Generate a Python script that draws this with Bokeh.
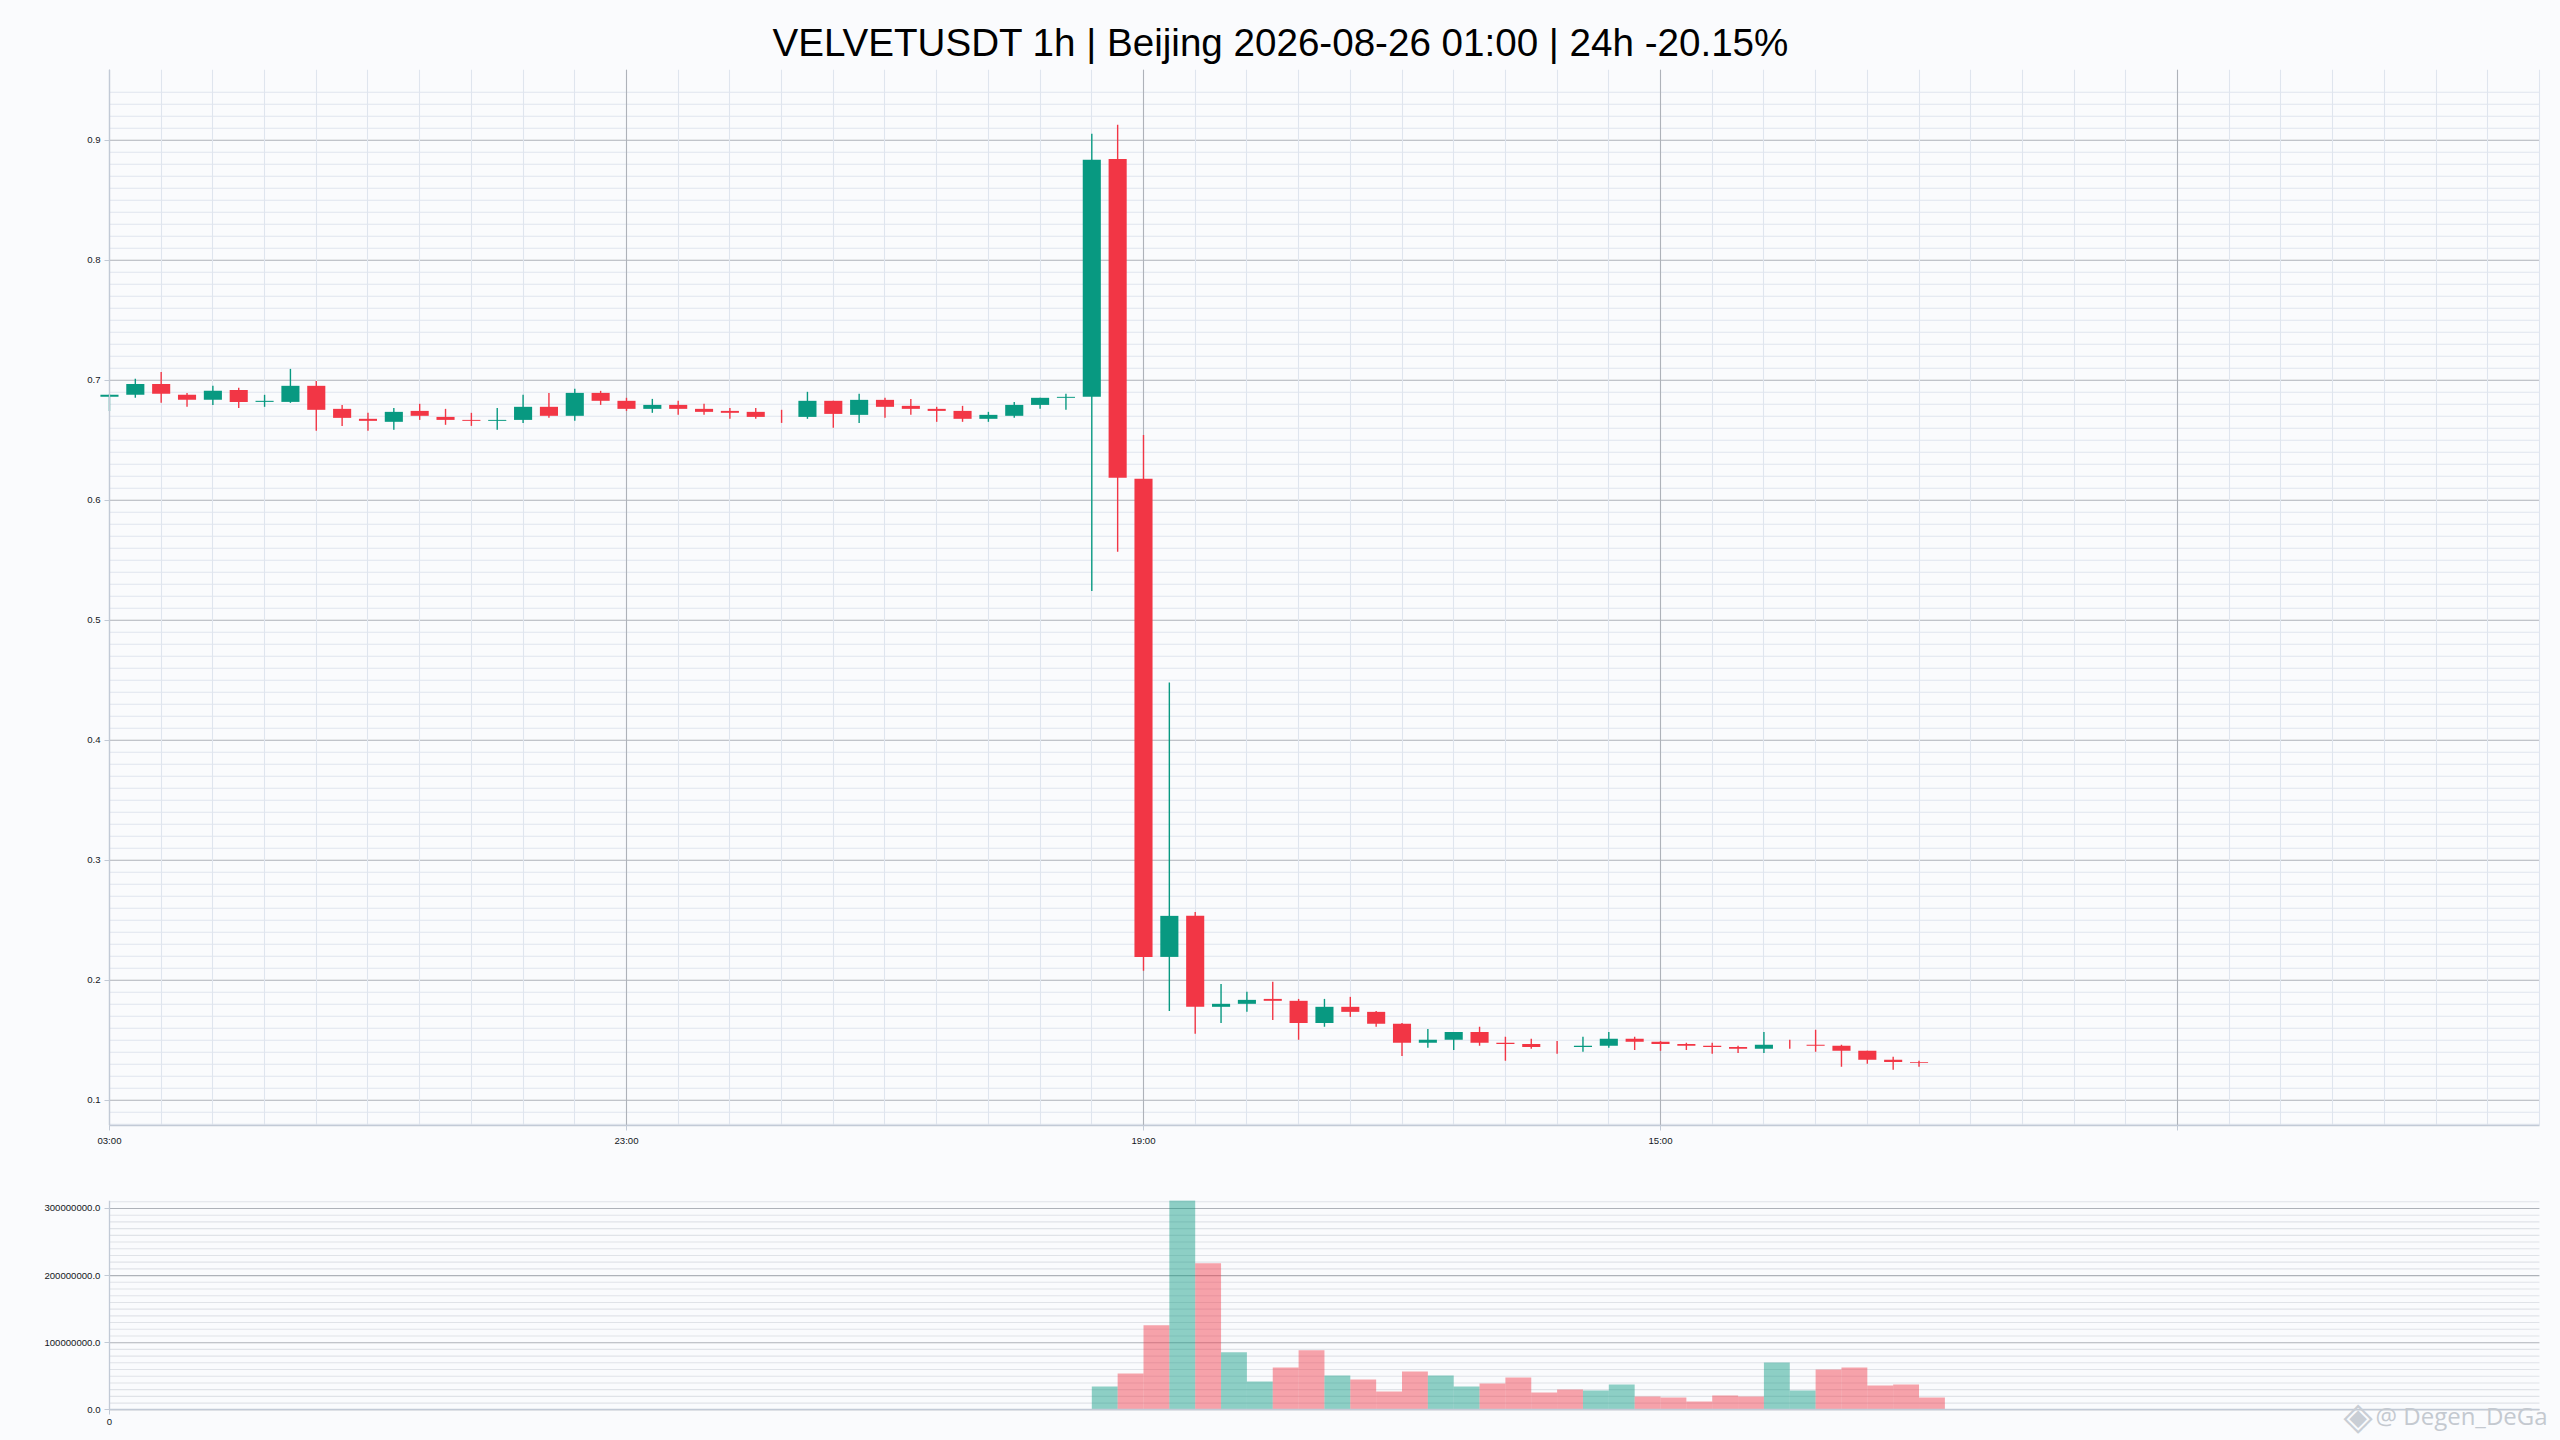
from bokeh.plotting import figure
from bokeh.layouts import column
from bokeh.models import ColumnDataSource, FixedTicker, Label, Title
from bokeh.embed import file_html
from bokeh.resources import INLINE

TITLE = "VELVETUSDT 1h | Beijing 2026-08-26 01:00 | 24h -20.15%"
WATERMARK = "@ Degen_DeGa"
X_TICK_LABELS = {0: "03:00", 20: "23:00", 40: "19:00", 60: "15:00", 80: ""}

opens = [.6861,.6878,.6969,.6878,.6836,.6919,.6819,.6819,.6953,.6761,.6678,.6653,.6744,.6694,.6669,.6661,
         .6669,.6778,.6703,.6894,.6828,.6761,.6794,.6761,.6744,.6736,.6700,.6694,.6828,.6711,.6836,.6786,
         .6761,.6744,.6678,.6703,.6794,.6853,.6861,.8844,.6178,.2194,.2536,.1778,.1803,.1844,.1828,.1644,
         .1778,.1736,.1636,.1478,.1503,.1569,.1478,.1469,.1440,.1444,.1453,.1511,.1486,.1469,.1453,.1444,
         .1428,.1460,.1461,.1453,.1411,.1336,.1319]
closes = [.6878,.6969,.6886,.6836,.6911,.6819,.6828,.6953,.6753,.6686,.6661,.6736,.6703,.6669,.6661,.6669,
          .6778,.6703,.6894,.6828,.6761,.6794,.6761,.6736,.6728,.6694,.6700,.6828,.6719,.6836,.6778,.6761,
          .6744,.6678,.6711,.6794,.6853,.6861,.8836,.6186,.2194,.2536,.1778,.1803,.1836,.1828,.1644,.1778,
          .1736,.1636,.1478,.1503,.1569,.1478,.1469,.1444,.1440,.1453,.1511,.1486,.1469,.1453,.1444,.1428,
          .1461,.1460,.1453,.1411,.1336,.1319,.1311]
highs = [.6883,.7011,.7069,.6894,.6953,.6936,.6878,.7094,.6994,.6794,.6728,.6769,.6803,.6761,.6728,.6769,
         .6878,.6894,.6928,.6911,.6853,.6844,.6828,.6803,.6769,.6769,.6753,.6903,.6828,.6886,.6853,.6844,
         .6778,.6786,.6736,.6819,.6853,.6886,.9053,.9128,.6544,.4481,.2569,.1969,.1903,.1986,.1844,.1844,
         .1861,.1744,.1644,.1594,.1569,.1611,.1528,.1511,.1494,.1528,.1569,.1528,.1494,.1478,.1478,.1453,
         .1569,.1503,.1586,.1461,.1411,.1361,.1328]
lows = [.6744,.6853,.6811,.6778,.6794,.6769,.6778,.6811,.6578,.6619,.6578,.6586,.6669,.6628,.6619,.6586,
        .6644,.6686,.6661,.6794,.6744,.6728,.6711,.6711,.6678,.6678,.6644,.6678,.6603,.6644,.6686,.6711,
        .6653,.6653,.6653,.6686,.6761,.6753,.5244,.5570,.2078,.1744,.1553,.1644,.1736,.1669,.1503,.1611,
        .1694,.1611,.1369,.1436,.1419,.1453,.1328,.1428,.1386,.1403,.1436,.1419,.1411,.1419,.1386,.1394,
        .1394,.1428,.1403,.1278,.1303,.1253,.1278]

# Volumes exist from candle 38 onwards; everything before draws no bar.
volume_first_index = 38
volumes = [34.8e6,54.2e6,125.9e6,312.4e6,218.4e6,85.6e6,42.3e6,63.2e6,88.6e6,51.2e6,45.3e6,27.4e6,57.2e6,
           51.2e6,34.8e6,39.3e6,48.3e6,25.9e6,30.3e6,28.9e6,37.8e6,19.9e6,18.4e6,12.4e6,21.4e6,19.9e6,
           70.6e6,28.9e6,60.2e6,63.2e6,36.3e6,37.8e6,18.4e6]
volume_up = [1,0,0,1,0,1,1,0,0,1,0,0,0,1,1,0,0,0,0,1,1,0,0,0,0,0,1,1,0,0,0,0,0]

BG = "#FAFBFD"
GREEN = "#089981"
RED = "#F23645"
GRID_MAJOR = "#AEB2B9"
GRID_MINOR = "#DFE5EE"
AXIS = "#C2CAD6"
TEXT = "#131722"
FONT = "Liberation Sans"

idx = list(range(len(opens)))
colors = [GREEN if c > o else RED for o, c in zip(opens, closes)]
candles = ColumnDataSource(dict(
    x=idx, high=highs, low=lows,
    top=[max(o, c) for o, c in zip(opens, closes)],
    bottom=[min(o, c) for o, c in zip(opens, closes)],
    color=colors))

# Both frames run wider than the drawn area: the y axes sit at x=0 and their
# labels, the overhanging first candle and the watermark must stay inside a frame.
X_END = 94
X_RANGE = (-2.668, 94.66)

p1 = figure(width=2560, height=1160, output_backend="svg", toolbar_location=None,
            x_range=X_RANGE, y_range=(0.0789, 0.9589),
            background_fill_color=BG, border_fill_color=BG,
            min_border_left=40, min_border_right=4, min_border_top=69, min_border_bottom=35)
p1.outline_line_color = None
p1.add_layout(Title(text=TITLE, text_font=FONT, text_font_size="38.6px", text_font_style="normal",
                    text_color="#000000", align="left", offset=732, standoff=11), "above")

y_major = [0.1, 0.2, 0.3, 0.4, 0.5, 0.6, 0.7, 0.8, 0.9]
y_minor = [round(0.08 + 0.01 * k, 2) for k in range(87)]
y_minor = [v for v in y_minor if v not in y_major]
p1.segment(x0=[0] * len(y_minor), x1=[X_END] * len(y_minor), y0=y_minor, y1=y_minor,
           line_color=GRID_MINOR, line_width=1.1, level="underlay")
p1.segment(x0=[0] * len(y_major), x1=[X_END] * len(y_major), y0=y_major, y1=y_major,
           line_color=GRID_MAJOR, line_width=1.1, level="underlay")

xg = p1.xgrid[0]
xg.ticker = FixedTicker(ticks=list(X_TICK_LABELS), minor_ticks=[k for k in range(0, 95, 2)])
xg.grid_line_color = GRID_MAJOR
xg.grid_line_width = 1.1
xg.minor_grid_line_color = GRID_MINOR
xg.minor_grid_line_width = 1.1
p1.ygrid.visible = False

p1.segment(x0="x", x1="x", y0="low", y1="high", line_color="color", line_width=1.4, source=candles)
p1.vbar(x="x", width=0.7, top="top", bottom="bottom", fill_color="color", line_color=None, source=candles)

ax = p1.xaxis[0]
ax.ticker = FixedTicker(ticks=list(X_TICK_LABELS))
ax.major_label_overrides = X_TICK_LABELS
ax.bounds = (0, X_END)
ay = p1.yaxis[0]
ay.ticker = FixedTicker(ticks=y_major)
ay.major_label_overrides = {v: str(v) for v in y_major}
ay.fixed_location = 0

p2 = figure(width=2560, height=280, output_backend="svg", toolbar_location=None,
            x_range=X_RANGE, y_range=(-39.8e6, 311.9e6),
            background_fill_color=BG, border_fill_color=BG,
            min_border_left=40, min_border_right=4, min_border_top=40, min_border_bottom=4)
p2.outline_line_color = None
v_major = [0, 100000000, 200000000, 300000000]
v_minor = [k * 10000000 for k in range(1, 32) if k % 10]
p2.segment(x0=[0] * len(v_minor), x1=[X_END] * len(v_minor), y0=v_minor, y1=v_minor,
           line_color="#E0E3E8", line_width=1.1, level="underlay")
p2.segment(x0=[0] * len(v_major), x1=[X_END] * len(v_major), y0=v_major, y1=v_major,
           line_color=GRID_MAJOR, line_width=1.1, level="underlay")
p2.xgrid.visible = False
p2.ygrid.visible = False

vol_x = [volume_first_index + k for k in range(len(volumes))]
p2.quad(left=vol_x, right=[v + 1 for v in vol_x], bottom=[0] * len(volumes), top=volumes,
        fill_color=[GREEN if u else RED for u in volume_up], fill_alpha=0.45, line_color=None)

ax2 = p2.xaxis[0]
ax2.ticker = FixedTicker(ticks=[0])
ax2.major_label_overrides = {0: "0"}
ax2.bounds = (0, X_END)
ax2.fixed_location = 0
ay2 = p2.yaxis[0]
ay2.ticker = FixedTicker(ticks=v_major)
ay2.major_label_overrides = {v: f"{v:.1f}" for v in v_major}
ay2.bounds = (0, 311.9e6)
ay2.fixed_location = 0

for a in (ax, ay, ax2, ay2):
    a.axis_line_color = AXIS
    a.axis_line_width = 1.3
    a.major_tick_line_color = AXIS
    a.major_tick_in = 0
    a.major_tick_out = 5
    a.minor_tick_line_color = None
    a.major_label_text_font = FONT
    a.major_label_text_font_size = "9.6px"
    a.major_label_text_color = TEXT
    a.major_label_standoff = 4

p2.add_layout(Label(x=2303, y=21, x_units="screen", y_units="screen", text="\u25c8", text_font="DejaVu Sans",
                    text_font_size="38px", text_color="#C9CED5", text_align="left", text_baseline="middle"))
p2.add_layout(Label(x=2335, y=21, x_units="screen", y_units="screen", text=WATERMARK, text_font="Open Sans",
                    text_font_size="24px", text_color="#C4C9D0", text_align="left", text_baseline="middle"))

page = column(p1, p2, spacing=0)
html = file_html(page, INLINE).replace("<head>", f"<head><style>html,body{{background:{BG}}}</style>", 1)
open("out.html", "w").write(html)
